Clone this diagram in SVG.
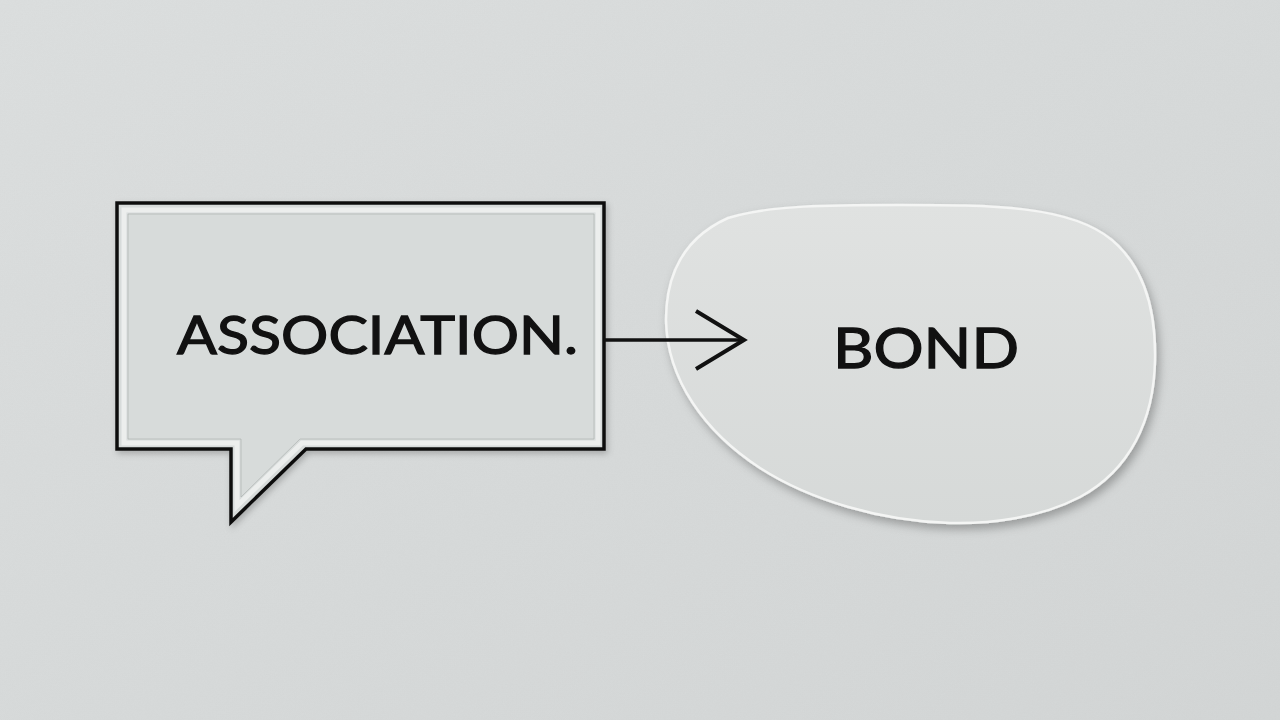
<svg xmlns="http://www.w3.org/2000/svg" width="1280" height="720" viewBox="0 0 1280 720">
  <defs>
    <filter id="noise" x="0" y="0" width="100%" height="100%">
      <feTurbulence type="fractalNoise" baseFrequency="0.9" numOctaves="2" seed="3" result="n"/>
      <feColorMatrix in="n" type="matrix" values="0 0 0 0 0.5  0 0 0 0 0.5  0 0 0 0 0.5  0 0 0 0.10 0" result="g"/>
      <feComposite in="g" in2="SourceGraphic" operator="in"/>
    </filter>
    <filter id="shadow" x="-10%" y="-10%" width="125%" height="130%">
      <feDropShadow dx="3" dy="5" stdDeviation="5" flood-color="#000" flood-opacity="0.28"/>
    </filter>
    <filter id="soft" x="-10%" y="-10%" width="125%" height="130%">
      <feDropShadow dx="2" dy="3" stdDeviation="3" flood-color="#000" flood-opacity="0.22"/>
    </filter>
    <linearGradient id="bg" x1="0" y1="0" x2="1" y2="1">
      <stop offset="0" stop-color="#dcdfdf"/>
      <stop offset="1" stop-color="#d3d6d6"/>
    </linearGradient>
    <linearGradient id="blobFill" x1="0" y1="0" x2="0" y2="1">
      <stop offset="0" stop-color="#e0e2e1"/>
      <stop offset="1" stop-color="#d6d9d8"/>
    </linearGradient>
  </defs>
  <style>
    .lbl { font-family: Lato, "Liberation Sans", sans-serif; font-weight: 400; fill: #111; stroke: #111; stroke-width: 1.3; }
    .ink { fill: none; stroke: #111; stroke-linecap: butt; stroke-linejoin: miter; }
  </style>

  <rect width="1280" height="720" fill="url(#bg)"/>
  <rect width="1280" height="720" fill="#fff" filter="url(#noise)"/>

  <g id="node-association">
    <path d="M117,203 H604 V449 H306 L231,522 V449 H117 Z" fill="#d7dbda" stroke="#111" stroke-width="3.5" filter="url(#soft)"/>
    <path d="M124,210 H598 V443 H302 L237,506 V443 H124 Z" fill="none" stroke="#eceeed" stroke-width="5"/>
    <path d="M128,214 H594 V439 H300 L241,497 V439 H128 Z" fill="none" stroke="#a9adac" stroke-width="1" opacity="0.6"/>
    <text class="lbl" x="177" y="354" font-size="53" textLength="401" lengthAdjust="spacingAndGlyphs">ASSOCIATION.</text>
  </g>

  <g id="node-bond">
    <path d="M900,205 C990,205 1070,205 1112,240 C1145,268 1156,312 1155,360 C1154,420 1130,470 1080,497 C1040,518 990,524 950,523 C880,521 810,500 760,468 C705,432 667,380 666,320 C666,270 688,236 728,218 C770,205 830,205 900,205 Z" fill="url(#blobFill)" stroke="#f4f5f4" stroke-width="2.5" filter="url(#shadow)"/>
    <text class="lbl" x="833" y="368" font-size="57" textLength="186" lengthAdjust="spacingAndGlyphs">BOND</text>
  </g>

  <g id="connectors">
    <line class="ink" x1="604" y1="340" x2="743" y2="340" stroke-width="3.5"/>
    <polyline class="ink" points="696,311 744,340 696,369" stroke-width="4"/>
  </g>
</svg>
